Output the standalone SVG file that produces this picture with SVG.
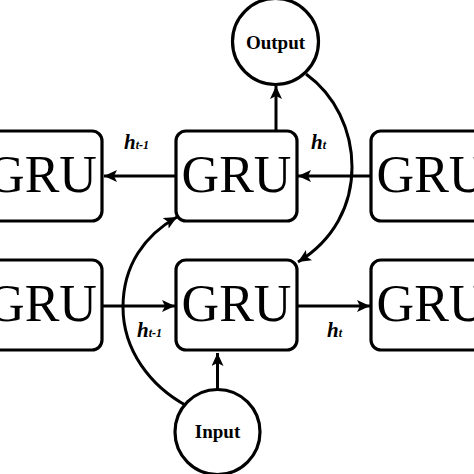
<svg xmlns="http://www.w3.org/2000/svg" width="474" height="474" viewBox="0 0 474 474">
<defs>
<style>
.box{fill:#fff;stroke:#000;stroke-width:3.2}
.circ{fill:#fff;stroke:#000;stroke-width:3.2}
.gru{font-family:"Liberation Serif","Times New Roman",serif;font-size:52px;text-anchor:middle;fill:#000}
.lbl{font-family:"Liberation Serif","Times New Roman",serif;font-size:19px;font-weight:bold;text-anchor:middle;fill:#000}
.h{font-family:"Liberation Serif","Times New Roman",serif;font-size:21px;font-weight:bold;font-style:italic;fill:#000}
.sub{font-size:12px}
.con{fill:none;stroke:#000;stroke-width:3;marker-end:url(#ah)}
</style>
<marker id="ah" markerUnits="userSpaceOnUse" markerWidth="14" markerHeight="12" refX="13" refY="6" orient="auto">
<path d="M0,0 L13,6 L0,12 L3,6 z" fill="#000"/>
</marker>
</defs>
<rect width="474" height="474" fill="#fff"/>
<g id="connectors">
<line class="con" x1="276" y1="131" x2="276" y2="86"/>
<line class="con" x1="176" y1="176" x2="104" y2="176"/>
<line class="con" x1="371" y1="176" x2="298" y2="176"/>
<line class="con" x1="102" y1="306" x2="175" y2="306"/>
<line class="con" x1="297" y1="306" x2="370" y2="306"/>
<line class="con" x1="217.5" y1="389" x2="217.5" y2="353"/>
<path class="con" d="M306,74 C335,95 352,130 352,167 C352,205 334,240 298,262"/>
<path class="con" d="M187,406 C150,386 123,350 123,307 C123,265 145,235 177,217"/>
</g>
<g id="gru-top-left"><rect class="box" x="-19" y="131" width="121" height="90" rx="10"/><text class="gru" x="42" y="192">GRU</text></g>
<g id="gru-top-center"><rect class="box" x="176" y="131" width="121" height="90" rx="10"/><text class="gru" x="236.5" y="192">GRU</text></g>
<g id="gru-top-right"><rect class="box" x="371" y="131" width="121" height="90" rx="10"/><text class="gru" x="431.5" y="192">GRU</text></g>
<g id="gru-bottom-left"><rect class="box" x="-19" y="260" width="121" height="90" rx="10"/><text class="gru" x="42" y="321">GRU</text></g>
<g id="gru-bottom-center"><rect class="box" x="176" y="260" width="121" height="90" rx="10"/><text class="gru" x="236.5" y="321">GRU</text></g>
<g id="gru-bottom-right"><rect class="box" x="371" y="260" width="121" height="90" rx="10"/><text class="gru" x="431.5" y="321">GRU</text></g>
<g id="output"><circle class="circ" cx="275.5" cy="41.5" r="43"/><text class="lbl" x="275.5" y="49">Output</text></g>
<g id="input"><circle class="circ" cx="217.5" cy="432" r="42.5"/><text class="lbl" x="217.5" y="438">Input</text></g>
<g id="labels">
<text class="h" x="124" y="149">h<tspan class="sub">t-1</tspan></text>
<text class="h" x="311" y="149">h<tspan class="sub">t</tspan></text>
<text class="h" x="137" y="337">h<tspan class="sub">t-1</tspan></text>
<text class="h" x="327" y="337">h<tspan class="sub">t</tspan></text>
</g>
</svg>
